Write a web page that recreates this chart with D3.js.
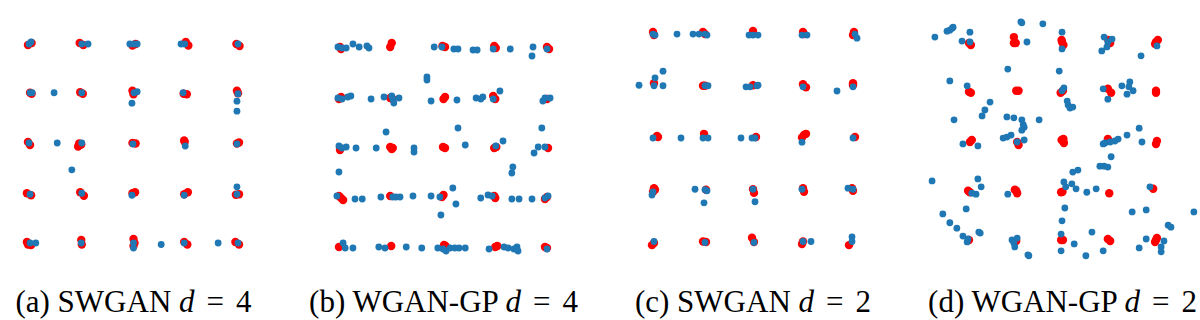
<!DOCTYPE html>
<html>
<head>
<meta charset="utf-8">
<script src="https://cdn.jsdelivr.net/npm/d3@7/dist/d3.min.js"></script>
<style>
  html, body { margin: 0; padding: 0; background: #fff; }
  svg { display: block; }
</style>
</head>
<body>
<svg id="chart" width="1200" height="320"></svg>
<script>
// ---- data (grid units, the 5x5 mixture sits on -2..2) ----
const captions = [
  { tag: '(a)', model: 'SWGAN', d: 4 },
  { tag: '(b)', model: 'WGAN-GP', d: 4 },
  { tag: '(c)', model: 'SWGAN', d: 2 },
  { tag: '(d)', model: 'WGAN-GP', d: 2 }
];

// real samples (red)
const redA = [
  [-2.02,1.98],[-1.95,2.02],[-1.03,2.02],[-0.96,1.98],[-0.02,1.97],[0.04,2.0],[1.0,2.04],[1.05,1.97],[1.97,2.0],[2.03,1.96],
  [-1.98,1.02],[-1.95,1.0],[-1.02,1.03],[-0.97,1.0],[-0.02,1.06],[0.0,0.99],[0.96,1.0],[1.02,0.99],[1.98,1.06],[2.0,1.01],
  [-2.02,0.03],[-1.98,-0.03],[-1.06,-0.06],[-1.0,-0.02],[-1.04,0.0],[-0.02,0.01],[0.04,0.0],[0.97,0.06],[0.98,0.03],[1.98,0.0],[2.02,0.02],
  [-2.04,-1.0],[-1.96,-1.04],[-1.02,-0.98],[-0.95,-1.05],[-0.02,-1.0],[0.03,-0.98],[0.97,-1.02],[1.04,-0.98],[1.96,-1.03],[2.02,-1.02],
  [-2.04,-1.98],[-1.96,-2.04],[-2.02,-2.03],[-1.0,-1.94],[-0.99,-2.03],[0.0,-1.92],[0.02,-2.0],[0.0,-2.06],[0.97,-1.98],[1.03,-2.03],[1.95,-1.98],[2.02,-2.03]
];
const redB = [
  [-2.0,2.0],[-1.98,1.96],[-1.03,2.0],[-1.0,2.08],[-0.02,2.02],[0.03,2.0],[0.98,2.02],[1.01,1.98],[2.0,2.0],[2.04,1.96],
  [-2.02,0.96],[-1.98,1.0],[-1.03,0.98],[-0.98,0.96],[0.0,0.96],[0.03,1.0],[0.96,1.02],[1.0,0.96],[2.0,0.96],
  [-2.0,-0.02],[-2.0,-0.06],[-1.03,0.0],[-0.98,-0.02],[-1.0,-0.04],[-0.01,0.0],[0.03,-0.02],[0.98,-0.02],[1.02,0.0],[2.02,-0.02],
  [-1.98,-1.02],[-1.94,-1.06],[-2.02,-0.98],[-1.03,-0.98],[-0.03,-1.0],[0.0,-0.96],[0.98,-0.98],[1.0,-1.02],[1.96,-1.04],[2.0,-1.0],
  [-2.02,-2.0],[-1.01,-1.98],[0.01,-1.96],[0.04,-1.98],[1.0,-2.0],[1.04,-1.98],[1.96,-2.0],[2.0,-2.02]
];
const redC = [
  [-2.0,2.02],[-1.98,1.96],[-1.0,2.02],[-0.96,1.98],[0.0,2.04],[1.0,2.02],[1.02,1.98],[2.02,2.02],[2.0,1.96],
  [-1.98,1.04],[-1.0,0.99],[-0.96,0.99],[0.0,1.0],[1.0,1.02],[1.06,0.96],[2.0,1.04],[2.0,1.0],
  [-1.92,0.03],[-1.9,0.01],[-0.98,0.07],[0.06,0.01],[1.02,0.05],[1.06,0.07],[0.98,0.0],[2.04,0.01],
  [-1.98,-0.97],[-1.96,-1.0],[-2.0,-1.04],[-0.94,-1.0],[0.0,-0.99],[0.02,-1.06],[1.0,-0.97],[1.02,-1.04],[1.98,-0.97],[2.0,-1.02],
  [-2.02,-2.06],[-1.98,-2.02],[-1.0,-1.99],[-0.94,-2.0],[-0.02,-1.92],[0.02,-2.0],[1.0,-1.99],[0.98,-2.04],[1.92,-2.06]
];
const redD = [
  [-2.0,2.0],[-1.96,1.96],[-1.04,2.12],[-1.04,2.0],[-1.0,2.0],[-0.01,2.02],[0.02,1.96],[-0.02,2.06],[1.02,2.0],[0.98,2.06],[2.0,2.02],[2.04,2.06],[1.98,1.98],
  [-2.0,1.01],[-1.96,0.99],[-0.99,1.03],[-0.94,1.03],[0.01,1.03],[-0.04,0.99],[0.97,1.07],[1.04,0.99],[2.0,1.03],[2.0,0.99],
  [-1.98,-0.01],[-1.94,0.03],[-0.97,-0.01],[-0.94,-0.07],[-0.02,0.03],[0.03,-0.03],[0.02,0.05],[0.97,0.05],[2.02,0.01],[2.0,-0.05],
  [-1.98,-1.03],[-2.02,-1.0],[-0.99,-1.0],[-0.97,-1.05],[-1.02,-0.98],[-0.03,-1.03],[0.0,-1.02],[1.0,-1.05],[1.94,-0.96],
  [-2.0,-2.0],[-0.99,-2.02],[0.01,-2.0],[-0.03,-2.0],[1.02,-2.02],[0.97,-1.98],[2.0,-2.0],[1.98,-2.04],[2.02,-1.96]
];

// generated samples (blue)
const blueA = [
  [-2.0,2.0],[-1.96,2.04],[-0.99,2.0],[-0.87,2.0],[-0.07,2.0],[0.01,2.0],[0.07,2.0],[0.91,2.0],[0.98,2.0],[2.0,2.0],
  [-1.98,1.02],[-1.94,1.02],[-1.52,1.02],[-0.99,1.02],[0.01,1.02],[0.07,1.04],[-0.03,0.81],[0.95,1.02],[2.0,1.0],[1.98,0.85],[1.98,0.65],
  [-2.0,0.01],[-1.46,0.01],[-0.99,0.01],[-1.18,-0.53],[-0.01,-0.01],[0.99,-0.05],[1.98,-0.01],
  [-1.98,-1.02],[-0.99,-1.0],[-0.03,-1.04],[0.97,-1.04],[1.98,-0.87],[1.98,-1.02],
  [-1.98,-2.0],[-1.87,-2.0],[-1.0,-2.0],[0.0,-2.0],[0.0,-2.1],[0.53,-2.03],[0.97,-2.0],[1.62,-2.0],[2.0,-2.0]
];
const blueB = [
  [-2.04,2.0],[-1.96,1.98],[-1.88,1.98],[-1.75,2.06],[-1.63,2.0],[-1.48,2.02],[-1.44,1.98],[-0.18,2.0],[-0.03,2.0],
  [0.20,1.96],[0.28,1.96],[0.57,1.94],[0.65,1.94],[0.96,1.96],[1.29,1.96],[1.71,1.82],[1.73,2.0],[2.0,1.96],
  [-2.04,0.98],[-1.96,0.96],[-1.85,1.0],[-1.79,1.02],[-1.40,0.96],[-1.15,1.0],[-1.0,1.02],[-0.98,0.96],[-0.96,0.88],
  [-0.86,0.98],[-0.32,1.40],[-0.32,1.34],[-0.24,0.92],[0.26,0.94],[0.63,0.98],[0.72,0.96],[0.76,1.0],[0.96,0.96],
  [1.09,1.12],[1.92,0.92],[1.96,0.98],[2.06,0.98],
  [-2.02,0.02],[-1.96,-0.02],[-1.88,0],[-1.69,-0.02],[-1.30,-0.02],[-1.11,0.30],[-0.57,-0.02],[-0.57,-0.10],
  [0.28,0.38],[0.42,0.04],[1.01,0.02],[1.15,0.12],[1.75,-0.12],[1.83,0],[1.90,0.38],[1.96,0],
  [-2.02,-0.50],[1.34,-0.40],[1.32,-0.52],
  [-2.06,-0.98],[-1.71,-1.04],[-1.57,-1.04],[-1.21,-1.0],[-0.98,-1.0],[-0.92,-1.0],[-0.84,-1.0],[-0.59,-0.98],
  [-0.24,-0.98],[-0.07,-1.0],[0.18,-0.82],[0.24,-1.14],[-0.05,-1.36],[0.72,-1.02],[0.86,-0.96],[0.94,-0.98],
  [1.32,-1.04],[1.46,-1.04],[1.71,-1.04],[1.96,-1.02],[2.02,-0.98],
  [-1.94,-1.92],[-1.90,-2.02],[-1.75,-2.02],[-1.25,-2.0],[-1.13,-2.02],[-0.72,-2.0],[-0.42,-2.02],[-0.11,-2.02],
  [-0.01,-2.04],[0.05,-2.08],[0.13,-2.02],[0.22,-2.02],[0.30,-2.02],[0.42,-2.02],[0.88,-2.04],[1.17,-2.0],
  [1.25,-2.02],[1.36,-2.04],[1.42,-2.0],[1.44,-2.08],[2.0,-2.04]
];
const blueC = [
  [-2.0,1.98],[-1.96,1.96],[-1.52,1.98],[-1.20,1.98],[-1.08,1.98],[-0.96,1.98],[-0.92,1.96],[-0.08,1.96],[0,1.96],
  [0.10,1.96],[0.98,1.96],[1.08,1.96],[2.04,1.98],[2.08,1.90],
  [-2.28,1.0],[-1.98,0.99],[-1.96,1.14],[-1.80,1.27],[-1.80,0.99],[-0.96,0.99],[-0.90,0.99],[-0.14,0.97],[-0.06,0.97],
  [0.08,0.99],[0.10,1.0],[1.0,0.97],[1.68,0.89],[2.0,0.97],
  [-2.0,-0.01],[-1.44,-0.01],[-1.0,-0.01],[-0.90,-0.01],[-0.24,-0.01],[-0.02,-0.01],[0.04,-0.01],[0.98,-0.09],[2.0,-0.01],
  [-2.0,-1.04],[-2.02,-1.10],[-1.16,-0.99],[-0.96,-1.0],[-0.92,-1.02],[-0.98,-1.25],[0,-0.99],[0.04,-1.23],
  [0.98,-0.99],[1.90,-0.97],[2.0,-0.99],
  [-1.98,-1.99],[-0.96,-2.01],[0.02,-2.01],[1.0,-1.99],[1.16,-1.99],[1.98,-1.90],[1.98,-1.99]
];
const blueD = [
  [-2.73,2.12],[-2.47,2.24],[-2.41,2.26],[-2.36,2.30],[-2.34,2.32],[-1.98,2.22],[-2.15,2.04],[-1.98,2.02],
  [-0.89,2.43],[-0.87,2.41],[-0.42,2.39],[-0.76,2.02],[-0.01,2.22],[-0.01,1.88],[0.89,2.12],[0.97,2.02],
  [0.95,1.92],[0.84,1.84],[1.06,2.08],[2.02,1.94],[1.68,1.74],
  [-1.17,1.47],[-0.07,1.43],[-2.41,1.23],[-2.04,1.13],[-0.01,1.03],[0.03,1.09],[0.87,1.07],[0.97,0.86],
  [1.27,1.13],[1.44,1.21],[1.42,1.11],[1.51,1.03],[1.38,0.96],[0.10,0.82],[0.12,0.74],[0.16,0.68],[0.22,0.70],
  [-1.55,0.80],[-1.66,0.64],[-1.72,0.52],[-2.32,0.44],[-1.19,0.50],[-1.04,0.48],[-0.87,0.44],[-0.84,0.34],
  [-0.82,0.29],[-0.87,0.23],[-0.50,0.44],
  [-1.27,0.07],[-1.19,0.09],[-1.10,0.13],[-0.82,0.03],[-0.97,-0.01],[-2.13,-0.05],[-1.81,-0.09],[0.87,-0.05],
  [0.91,-0.03],[1.02,-0.01],[1.12,0.01],[1.19,0.05],[1.38,0.13],[1.64,0.27],[1.70,-0.01],[1.04,-0.31],
  [0.80,-0.50],[0.89,-0.50],[0.97,-0.52],[0.33,-0.58],[0.22,-0.62],
  [-2.79,-0.80],[-1.81,-0.76],[-1.74,-0.92],[-1.94,-1.05],[-1.85,-1.07],[-1.17,-1.07],[0.03,-0.82],[0.07,-0.92],
  [0.20,-0.86],[0.29,-0.96],[0.52,-1.03],[0.72,-0.96],[1.87,-0.92],[0.05,-1.35],[-2.06,-1.37],[1.49,-1.43],
  [1.79,-1.39],[2.81,-1.43],
  [-2.56,-1.47],[-2.41,-1.65],[-2.26,-1.76],[-2.13,-1.92],[-1.79,-1.84],[-1.76,-1.86],[-2.04,-2.04],[-2.02,-1.98],
  [-1.08,-2.0],[-0.97,-1.96],[-1.04,-2.06],[-1.02,-2.14],[-0.74,-2.30],[-0.72,-2.32],[-0.01,-1.61],[-0.03,-1.88],
  [-0.03,-2.22],[0.25,-2.08],[0.50,-2.32],[0.63,-1.84],[0.87,-2.22],[1.79,-1.98],[1.64,-2.16],[2.17,-2.02],
  [2.11,-2.14],[2.11,-2.24],[2.26,-1.70],[2.32,-1.74]
];

const realSets = [redA, redB, redC, redD];
const fakeSets = [blueA, blueB, blueC, blueD];

// ---- layout: pixel box each panel's -2..2 grid maps onto ----
const panels = [
  { x: [29, 238], y: [243, 44] },
  { x: [340, 547], y: [247, 47] },
  { x: [653, 853], y: [242, 33] },
  { x: [969, 1156], y: [240, 43] }
];

const svg = d3.select('#chart');

panels.forEach((p, i) => {
  const x = d3.scaleLinear().domain([-2, 2]).range(p.x);
  const y = d3.scaleLinear().domain([-2, 2]).range(p.y);
  const g = svg.append('g').attr('class', 'panel');

  // real data first, generated on top
  g.selectAll('circle.real')
    .data(realSets[i])
    .enter()
    .append('circle')
    .attr('class', 'real')
    .attr('cx', d => x(d[0]))
    .attr('cy', d => y(d[1]))
    .attr('r', 4.2)
    .attr('fill', '#ff0000');

  g.selectAll('circle.fake')
    .data(fakeSets[i])
    .enter()
    .append('circle')
    .attr('class', 'fake')
    .attr('cx', d => x(d[0]))
    .attr('cy', d => y(d[1]))
    .attr('r', 3.4)
    .attr('fill', '#1f77b4');

  // caption under the panel (latex-ish spacing around "=")
  const c = captions[i];
  const t = svg.append('text')
    .attr('x', (p.x[0] + p.x[1]) / 2)
    .attr('y', 312)
    .attr('text-anchor', 'middle')
    .style('font-family', '"Liberation Serif", "DejaVu Serif", serif')
    .style('font-size', '31px')
    .style('fill', '#000');
  t.append('tspan').text(`${c.tag} ${c.model} `);
  t.append('tspan').style('font-style', 'italic').text('d');
  t.append('tspan').attr('dx', 12).text('=');
  t.append('tspan').attr('dx', 12).text(c.d);
});
</script>
</body>
</html>
